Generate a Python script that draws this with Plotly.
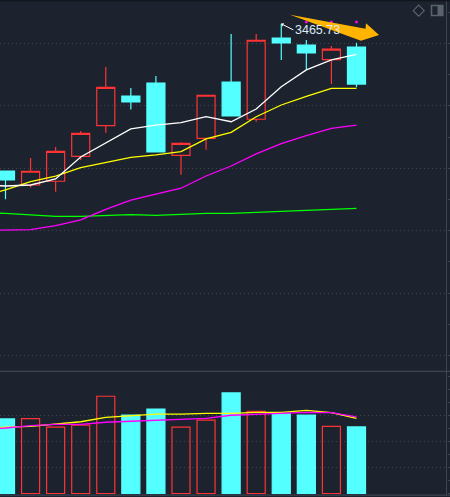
import plotly.graph_objects as go

# Daily sessions, price panel
sessions = list(range(15))
opens = [3347.8, 3336.6, 3339.6, 3359.6, 3384.1, 3407.9, 3418.3, 3360.4, 3374.0, 3419.1, 3389.3, 3454.4, 3448.8, 3437.0, 3447.2]
highs = [3347.8, 3358.3, 3367.1, 3379.9, 3431.2, 3414.3, 3424.0, 3370.8, 3408.5, 3457.6, 3457.6, 3465.73, 3452.8, 3448.0, 3450.6]
lows = [3325.2, 3334.5, 3331.2, 3356.6, 3378.5, 3397.0, 3363.1, 3344.9, 3364.9, 3391.9, 3387.3, 3436.8, 3428.8, 3417.5, 3414.9]
closes = [3340.6, 3347.6, 3363.6, 3378.0, 3414.9, 3403.1, 3363.1, 3370.0, 3408.5, 3391.9, 3452.6, 3450.4, 3442.4, 3445.4, 3417.5]

# Moving averages start one session earlier so they run off the left edge
ma_sessions = list(range(-1, 15))
ma5 = [3336.6, 3335.8, 3336.6, 3341.4, 3359.1, 3370.3, 3381.5, 3384.5, 3386.5, 3391.3, 3387.3, 3397.5, 3415.4, 3428.8, 3436.8, 3441.3]
ma10 = [3327.8, 3332.6, 3339.3, 3343.8, 3350.5, 3354.5, 3358.8, 3360.7, 3363.3, 3373.5, 3378.8, 3391.3, 3400.7, 3407.7, 3414.1, 3414.1]
ma20 = [3300.2, 3300.3, 3300.8, 3304.0, 3308.6, 3317.1, 3324.4, 3329.2, 3334.0, 3343.8, 3351.8, 3361.5, 3369.7, 3376.1, 3382.0, 3384.5]
ma60 = [3314.2, 3313.9, 3312.6, 3311.5, 3311.5, 3312.0, 3312.8, 3312.3, 3313.1, 3313.9, 3313.9, 3314.7, 3315.5, 3316.3, 3317.1, 3317.9]

# Volume panel
volumes = [2.87, 2.88, 2.55, 2.63, 3.74, 3.02, 3.25, 2.55, 2.82, 3.87, 3.16, 3.07, 3.02, 2.58, 2.56]
vol_ma5 = [2.48, 2.55, 2.58, 2.67, 2.76, 2.93, 2.98, 3.05, 3.05, 3.08, 3.08, 3.12, 3.12, 3.20, 3.11, 2.89]
vol_ma10 = [2.46, 2.52, 2.61, 2.66, 2.66, 2.74, 2.78, 2.82, 2.85, 2.89, 3.01, 3.05, 3.08, 3.12, 3.11, 2.95]

# Flag dots above the last sessions
flag_sessions = [12, 13, 14]
flag_levels = [3467.2, 3467.2, 3467.2]

HIGH_LABEL = "3465.73"

BG = "#1c232e"
GRID = "#3d4550"
RED = "#ff3333"
CYAN = "#54ffff"
ICON = "#5a626c"

fig = go.Figure()

fig.add_trace(go.Candlestick(
    x=sessions, open=opens, high=highs, low=lows, close=closes,
    increasing=dict(line=dict(color=RED, width=1.2), fillcolor="rgba(0,0,0,0)"),
    decreasing=dict(line=dict(color=CYAN, width=1.2), fillcolor=CYAN),
    whiskerwidth=0, hoverinfo="skip", xaxis="x", yaxis="y",
))

for values, colour in ((ma60, "#00ff00"), (ma20, "#ff00ff"), (ma10, "#ffff00"), (ma5, "#ffffff")):
    fig.add_trace(go.Scatter(x=ma_sessions, y=values, mode="lines",
                             line=dict(color=colour, width=1.3),
                             hoverinfo="skip", xaxis="x", yaxis="y"))

fig.add_trace(go.Scatter(x=flag_sessions, y=flag_levels, mode="markers",
                         marker=dict(color="#ff00ff", size=2.5, symbol="square"),
                         hoverinfo="skip", xaxis="x", yaxis="y"))

bar_fill = ["rgba(0,0,0,0)" if c > o else CYAN for o, c in zip(opens, closes)]
bar_edge = [RED if c > o else CYAN for o, c in zip(opens, closes)]
fig.add_trace(go.Bar(x=sessions, y=volumes, width=0.72,
                     marker=dict(color=bar_fill, line=dict(color=bar_edge, width=1.2)),
                     hoverinfo="skip", xaxis="x2", yaxis="y2"))
fig.add_trace(go.Scatter(x=ma_sessions, y=vol_ma5, mode="lines",
                         line=dict(color="#ffff00", width=1.3),
                         hoverinfo="skip", xaxis="x2", yaxis="y2"))
fig.add_trace(go.Scatter(x=ma_sessions, y=vol_ma10, mode="lines",
                         line=dict(color="#ff00ff", width=1.3),
                         hoverinfo="skip", xaxis="x2", yaxis="y2"))

x_range = [-0.219, 17.583]
x_domain = [0, 0.9918]
x_common = dict(range=x_range, domain=x_domain, showgrid=False, zeroline=False,
                showticklabels=False, ticks="", showline=False,
                rangeslider=dict(visible=False))


def right_axis(**extra):
    return dict(side="right", showline=True, linecolor=GRID, linewidth=1.4,
                showticklabels=False, ticks="outside", ticklen=4, tickcolor=GRID,
                tickwidth=1, gridcolor=GRID, griddash="1px 3px", gridwidth=1,
                zeroline=False, **extra)


# Hand-drawn call-out arrow, expressed in session/price units
arrow_path = ("M 11.35 3473.1 L 14.36 3461.8 L 14.38 3466.2 L 14.90 3456.8 "
              "L 14.18 3452.2 Z")

# Toolbar glyphs in the top-right corner, in paper units
W, H = 450.0, 497.0


def px(x, y):
    return f"{x / W:.5f} {1 - y / H:.5f}"


diamond = f"M {px(418.7, 5.2)} L {px(424.2, 10.7)} L {px(418.7, 16.2)} L {px(413.2, 10.7)} Z"

shapes = [
    dict(type="rect", xref="paper", yref="paper", x0=0, x1=1, y0=1 - 1.2 / H, y1=1,
         fillcolor="#12161c", line=dict(width=0), layer="above"),
    dict(type="line", xref="paper", yref="paper", x0=0, x1=1,
         y0=1 - 371.3 / H, y1=1 - 371.3 / H, line=dict(color=GRID, width=1.2), layer="above"),
    dict(type="line", xref="paper", yref="paper", x0=0, x1=1,
         y0=1 - 495.2 / H, y1=1 - 495.2 / H, line=dict(color=GRID, width=1.2), layer="above"),
    dict(type="path", xref="paper", yref="paper", path=diamond,
         line=dict(color=ICON, width=1.2), fillcolor="rgba(0,0,0,0)", layer="above"),
    dict(type="rect", xref="paper", yref="paper", x0=431.5 / W, x1=442.8 / W,
         y0=1 - 15.5 / H, y1=1 - 5.5 / H, line=dict(color=ICON, width=1.6),
         fillcolor="rgba(0,0,0,0)", layer="above"),
    dict(type="rect", xref="paper", yref="paper", x0=437.5 / W, x1=442.8 / W,
         y0=1 - 15.5 / H, y1=1 - 5.5 / H, line=dict(width=0), fillcolor=ICON, layer="above"),
    dict(type="path", xref="x", yref="y", path=arrow_path, fillcolor="#ffb400",
         line=dict(width=0), layer="above"),
]

fig.update_layout(
    width=450, height=497,
    margin=dict(l=0, r=0, t=0, b=0),
    paper_bgcolor=BG, plot_bgcolor=BG,
    showlegend=False, boxgap=0.28, boxgroupgap=0,
    xaxis=dict(anchor="y", **x_common),
    xaxis2=dict(anchor="y2", **x_common),
    yaxis=right_axis(domain=[0.2529, 0.998], range=[3187.3, 3484.05], anchor="x",
                     tick0=3200, dtick=50,
                     minor=dict(dtick=25, ticks="outside", ticklen=2, tickcolor=GRID, showgrid=False)),
    yaxis2=right_axis(domain=[0.004, 0.2529], range=[-0.058, 4.7], anchor="x2",
                      tickvals=[1, 2, 3],
                      minor=dict(dtick=0.5, ticks="outside", ticklen=2, tickcolor=GRID, showgrid=False)),
    shapes=shapes,
    annotations=[dict(
        x=11, y=3465.73, xref="x", yref="y", text=HIGH_LABEL, showarrow=True,
        arrowhead=1, arrowsize=0.7, arrowcolor="#ffffff", arrowwidth=1, ax=12, ay=6, xanchor="left",
        font=dict(family="Liberation Sans, Arial, sans-serif", size=12.5, color="#dceaf5"),
        standoff=0,
    )],
)

fig.write_html("out.html", config=dict(displayModeBar=False))
